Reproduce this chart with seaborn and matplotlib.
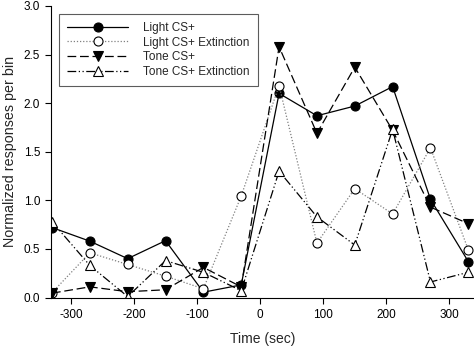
import matplotlib
matplotlib.use("Agg")
import matplotlib.pyplot as plt
import seaborn as sns
import pandas as pd

time_sec = [-330, -270, -210, -150, -90, -30, 30, 90, 150, 210, 270, 330]
light_cs = [0.72, 0.58, 0.40, 0.585, 0.055, 0.13, 2.10, 1.87, 1.97, 2.17, 1.01, 0.37]
light_cs_ext = [0.05, 0.46, 0.34, 0.22, 0.09, 1.045, 2.18, 0.56, 1.12, 0.86, 1.54, 0.49]
tone_cs = [0.045, 0.11, 0.06, 0.08, 0.31, 0.11, 2.58, 1.69, 2.37, 1.72, 0.93, 0.76]
tone_cs_ext = [0.78, 0.33, 0.01, 0.38, 0.26, 0.07, 1.30, 0.83, 0.54, 1.73, 0.16, 0.26]
labels = ["Light CS+", "Light CS+ Extinction", "Tone CS+", "Tone CS+ Extinction"]

sns.set_style("ticks")
plt.rcParams['font.family'] = ['Liberation Sans', 'DejaVu Sans']
plt.rcParams['axes.unicode_minus'] = False

fig = plt.figure(figsize=(4.74, 3.48), dpi=100)
ax = fig.add_axes([0.107, 0.145, 0.893, 0.838])

series = [light_cs, light_cs_ext, tone_cs, tone_cs_ext]
styles = [
    dict(marker="o", markerfacecolor="black", color="black", dashes=None),
    dict(marker="o", markerfacecolor="white", color="#808080", dashes=(1, 1.5)),
    dict(marker="v", markerfacecolor="black", color="black", dashes=(7, 3)),
    dict(marker="^", markerfacecolor="white", color="black", dashes=(7, 2, 1, 2, 1, 2)),
]
for vals, lab, st in zip(series, labels, styles):
    df = pd.DataFrame({"t": time_sec, "v": vals})
    kw = dict(marker=st["marker"], markersize=6.5, markerfacecolor=st["markerfacecolor"],
              markeredgecolor="black", markeredgewidth=0.8, color=st["color"], linewidth=0.9,
              label=lab)
    line = sns.lineplot(data=df, x="t", y="v", ax=ax, **kw).lines[-1]
    if st["dashes"] is not None:
        line.set_dashes(st["dashes"])

ax.set_xlim(-332, 339)
ax.set_ylim(0, 3.0)
ax.set_xticks([-300, -200, -100, 0, 100, 200, 300])
ax.set_yticks([0.0, 0.5, 1.0, 1.5, 2.0, 2.5, 3.0])
ax.set_yticklabels(["0.0", "0.5", "1.0", "1.5", "2.0", "2.5", "3.0"])
ax.set_xlabel("Time (sec)", fontsize=10, labelpad=8)
ax.set_ylabel("Normalized responses per bin", fontsize=10.3, labelpad=5)
ax.tick_params(labelsize=8.5, length=4, width=0.8, colors="black")
ax.tick_params(axis="x", pad=4.5)
sns.despine(ax=ax)
for s in ["left", "bottom"]:
    ax.spines[s].set_linewidth(0.8)
    ax.spines[s].set_color("black")

leg = ax.legend(loc="upper left", bbox_to_anchor=(0.0196, 0.9726), fontsize=8.5,
                handlelength=5.2, handletextpad=1.27, labelspacing=0.22,
                frameon=True, fancybox=False, borderpad=0.68, borderaxespad=0.0)
leg.get_frame().set_edgecolor("#333333")
leg.get_frame().set_linewidth(0.8)

fig.savefig("out.png", dpi=100)
